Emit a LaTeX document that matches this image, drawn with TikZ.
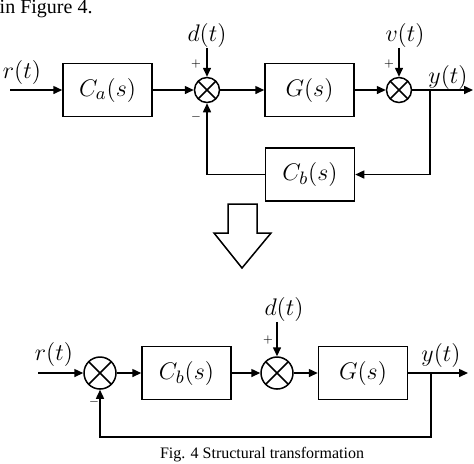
\documentclass[tikz,border=0pt]{standalone}
\usepackage{amsmath}
\usepackage{fontspec}
\setmainfont{Liberation Serif}
\usetikzlibrary{arrows.meta, positioning, calc}

\begin{document}
\begin{tikzpicture}[x=0.5pt, y=-0.5pt, line width=0.75pt,
    block/.style={draw, line width=0.75pt, minimum width=44.5pt, minimum height=26.5pt, inner sep=0pt, font=\fontsize{12.5}{14}\selectfont},
    sumnode/.style={draw, circle, line width=0.75pt, inner sep=0pt, minimum size=#1, path picture={
        \draw[line width=0.75pt] (path picture bounding box.north west) -- (path picture bounding box.south east)
            (path picture bounding box.north east) -- (path picture bounding box.south west);}},
    sig/.style={inner sep=0pt, font=\fontsize{12.5}{14}\selectfont},
    sgn/.style={inner sep=0pt, font=\fontsize{5}{6}\selectfont},
    flow/.style={-{Triangle[length=4.5pt, width=4pt]}}]
    \useasboundingbox (0,0) rectangle (474,463);
    \clip (0,0) rectangle (474,463);

    % ===== Text around the figure =====
    \node[font=\fontsize{10}{12}\selectfont, anchor=base west, inner sep=0pt] (prev) at (-1,13) {in Figure 4.};
    \node[font=\fontsize{8}{10}\selectfont, anchor=base, inner sep=0pt] (caption) at (262,458) {Fig. 4 Structural transformation};

    % ===== STEP 0: Original structure =====
    \node[block] (Ca) at (107.5,90) {$C_a(s)$};
    \node[sumnode=12.5pt] (S1) at (207,90) {};
    \node[block] (G1) at (309.5,90) {$G(s)$};
    \node[sumnode=12.5pt] (S2) at (399,90) {};
    \node[block] (Cb1) at (310,174.5) {$C_b(s)$};

    % Signals
    \node[sig] (r1) at (22,72) {$r(t)$};
    \node[sig] (d1) at (207,35) {$d(t)$};
    \node[sig] (v1) at (405,35) {$v(t)$};
    \node[sig] (y1) at (448,77) {$y(t)$};
    \coordinate (in1) at (10,90);
    \coordinate (out1) at (473,90);
    \coordinate (br1) at (430,90);

    % Signs
    \node[sgn] (p1) at (196,64) {$+$};
    \node[sgn] (m1) at (196,117) {$-$};
    \node[sgn] (p2) at (389,64) {$+$};

    % Connections
    \draw[flow] (in1) -- (Ca);
    \draw[flow] (Ca) -- (S1);
    \draw[flow] (S1) -- (G1);
    \draw[flow] (G1) -- (S2);
    \draw[flow] (S2) -- (out1);
    \draw[flow] (S1 |- d1.south) -- (S1);
    \draw[flow] (S2 |- v1.south) -- (S2);
    \draw[flow] (br1) |- (Cb1);
    \draw[flow] (Cb1) -| (S1);

    % ===== Transformation arrow =====
    \draw[line width=0.75pt] (228,204) -- (257,204) -- (257,233) -- (271,233) -- (242,268) -- (214,233) -- (228,233) -- cycle;

    % ===== STEP 1: Transformed structure =====
    \node[sumnode=16pt] (S3) at (100,373) {};
    \node[block] (Cb2) at (186.5,373) {$C_b(s)$};
    \node[sumnode=16pt] (S4) at (277,373) {};
    \node[block] (G2) at (363,373) {$G(s)$};

    % Signals
    \node[sig] (r2) at (54,354) {$r(t)$};
    \node[sig] (d2) at (284,309) {$d(t)$};
    \node[sig] (y2) at (441,355) {$y(t)$};
    \coordinate (in2) at (38,373);
    \coordinate (out2) at (468,373);
    \coordinate (br2) at (431,373);
    \coordinate (fb2) at (431,437);

    % Signs
    \node[sgn] (p3) at (268,340) {$+$};
    \node[sgn] (m3) at (94,402) {$-$};

    % Connections
    \draw[flow] (in2) -- (S3);
    \draw[flow] (S3) -- (Cb2);
    \draw[flow] (Cb2) -- (S4);
    \draw[flow] (S4) -- (G2);
    \draw[flow] (G2) -- (out2);
    \draw[flow] (S4 |- d2.south) -- (S4);
    \draw[flow] (br2) -- (fb2) -| (S3);
\end{tikzpicture}
\end{document}
